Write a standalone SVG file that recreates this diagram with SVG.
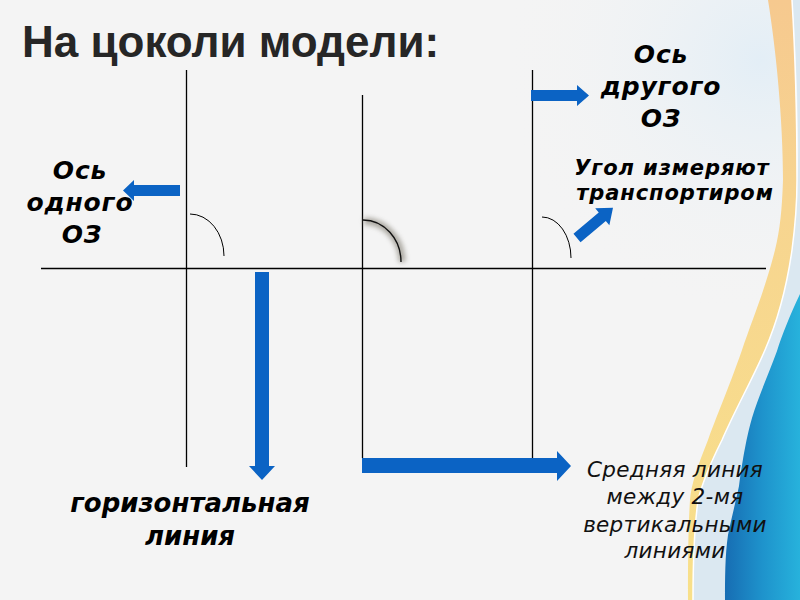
<svg xmlns="http://www.w3.org/2000/svg" width="800" height="600" viewBox="0 0 800 600">
<defs>
<style>
.ln{stroke:#000;stroke-width:1.3;fill:none}
.arc{stroke:#000;stroke-width:1;fill:none}
.arw{fill:#0b63c4}
.lbl{font-family:"DejaVu Sans",Verdana,sans-serif;font-weight:bold;font-style:italic;fill:#000;text-anchor:middle}
.note{font-family:"DejaVu Sans",Verdana,sans-serif;font-style:italic;fill:#111;text-anchor:middle;font-size:21.5px;letter-spacing:0.3px}
</style>
<radialGradient id="bgTR" cx="760" cy="60" r="260" gradientUnits="userSpaceOnUse">
<stop offset="0" stop-color="#e3eef6"/>
<stop offset="1" stop-color="#f4f4f4" stop-opacity="0"/>
</radialGradient>
<linearGradient id="orange" x1="0" y1="0" x2="0" y2="1">
<stop offset="0" stop-color="#f6c98f"/>
<stop offset="0.35" stop-color="#f7d590"/>
<stop offset="1" stop-color="#f8e08a"/>
</linearGradient>
<linearGradient id="blue" x1="0" y1="0" x2="1" y2="0">
<stop offset="0" stop-color="#176db3"/>
<stop offset="0.5" stop-color="#1e93cc"/>
<stop offset="1" stop-color="#27b2dc"/>
</linearGradient>
<filter id="shadow" x="-30%" y="-30%" width="160%" height="160%">
<feGaussianBlur stdDeviation="2.5"/>
</filter>
</defs>

<rect width="800" height="600" fill="#f4f4f4"/>
<rect width="800" height="600" fill="url(#bgTR)"/>

<!-- decorative wave -->
<path d="M792,0 C797,60 800,150 797,180 C795,215 792,235 785,260 C775,300 760,350 740,400 C722,440 700,480 695,520 C692,550 693,580 693,600 L800,600 L800,0 Z" fill="#dbe8f1"/>
<path d="M768,0 C776,50 783,120 783,180 C782,210 780,230 775,250 C765,290 752,320 742,350 C728,390 715,420 708,440 C698,465 691,485 690,500 C688,530 688,570 688,600 L693,600 C693,570 694,530 698,500 C703,480 712,460 722,440 C735,410 752,380 765,350 C778,320 787,285 792,250 C796,220 797,200 797,180 C797,120 795,50 792,0 Z" fill="url(#orange)"/>
<path d="M792,0 C795,50 797,120 797,180 C797,200 796,220 792,250 C787,285 778,320 765,350 C752,380 735,410 722,440 C712,460 703,480 698,500 C694,530 693,570 693,600" fill="none" stroke="#ffffff" stroke-width="1.5"/>
<path d="M800,294 C790,315 782,335 777,351 C768,375 758,398 752,418 C748,432 744,450 739,486 C735,505 731,520 728,535 C725,555 725,580 725,600 L800,600 Z" fill="url(#blue)"/>

<!-- title -->
<text x="22" y="57" font-family="Liberation Sans, Arial, sans-serif" font-weight="bold" font-size="44" fill="#262626">На цоколи модели:</text>

<!-- connectors / lines -->
<g id="connectors">
<line class="ln" x1="41" y1="268.5" x2="766" y2="268.5"/>
<line class="ln" x1="186.5" y1="70" x2="186.5" y2="467"/>
<line class="ln" x1="362.5" y1="95" x2="362.5" y2="458"/>
<line class="ln" x1="532.5" y1="70" x2="532.5" y2="458"/>
<path class="arc" d="M190,214 A34 42 0 0 1 224,256"/>
<path d="M364,221 A38 41 0 0 1 402,262" stroke="#8a867c" stroke-width="7" fill="none" filter="url(#shadow)" opacity="0.7"/>
<path d="M363,220 A38 42 0 0 1 401,262" stroke="#111" stroke-width="1.4" fill="none"/>
<path class="arc" d="M542,217 A29 41 0 0 1 571,258"/>
<polygon class="arw" points="180,185 134,185 134,180 123,190.5 134,201 134,196 180,196"/>
<polygon class="arw" points="531,90 577,90 577,85 589,95.5 577,106 577,101 531,101"/>
<polygon class="arw" transform="translate(577,238) rotate(-40)" points="0,-5.5 33,-5.5 33,-11 47,0 33,11 33,5.5 0,5.5"/>
<polygon class="arw" points="255,272 269,272 269,466 275,466 262,480 249,466 255,466"/>
<polygon class="arw" points="362,458 557,458 557,451 571,466 557,481 557,473 362,473"/>
</g>

<g id="axis-one">
<text class="lbl" font-size="25" letter-spacing="0.8" x="80" y="179">Ось</text>
<text class="lbl" font-size="25" letter-spacing="0.8" x="80" y="211">одного</text>
<text class="lbl" font-size="25" letter-spacing="0.8" x="82" y="243">ОЗ</text>
</g>

<g id="axis-other">
<text class="lbl" font-size="25" letter-spacing="0.8" x="661" y="63">Ось</text>
<text class="lbl" font-size="25" letter-spacing="0.8" x="661" y="95">другого</text>
<text class="lbl" font-size="25" letter-spacing="0.8" x="661" y="127">ОЗ</text>
</g>

<g id="angle-note">
<text class="lbl" font-size="21" letter-spacing="0.9" x="672" y="175">Угол измеряют</text>
<text class="lbl" font-size="21" letter-spacing="0.9" x="675" y="200">транспортиром</text>
</g>

<g id="horizontal-line-label">
<text class="lbl" font-size="26" x="190" y="512">горизонтальная</text>
<text class="lbl" font-size="26" x="190" y="545">линия</text>
</g>

<g id="middle-line-label">
<text class="note" x="675" y="477">Средняя линия</text>
<text class="note" x="675" y="504">между 2-мя</text>
<text class="note" x="675" y="532">вертикальными</text>
<text class="note" x="675" y="558">линиями</text>
</g>
</svg>
